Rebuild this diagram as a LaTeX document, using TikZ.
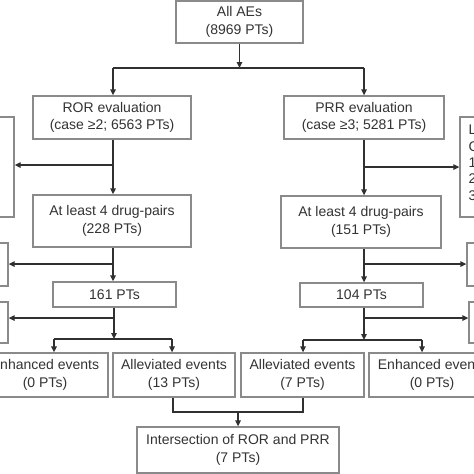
\documentclass[tikz,border=0pt]{standalone}
\usepackage{fontspec}
\setmainfont{Liberation Sans}
\usetikzlibrary{arrows.meta}
\definecolor{txt}{HTML}{333333}
\definecolor{boxc}{HTML}{8A8A8A}
\definecolor{linec}{HTML}{303030}
\begin{document}
\begin{tikzpicture}[x=1pt,y=-1pt,
  box/.style={draw=boxc,line width=1.3pt,fill=white,inner sep=0pt,align=center,text=txt,
    font=\fontsize{14pt}{17.5pt}\selectfont},
  conn/.style={draw=linec,line width=1.3pt},
  arr/.style={conn,-{Triangle[length=6pt,width=5.5pt]}}]
\useasboundingbox (0,0) rectangle (474,474);
\begin{scope}
\clip (0,0) rectangle (474,474);
% top
\node[box,minimum width=127pt,minimum height=42pt] (all) at (239.5,22) {All AEs\\(8969 PTs)};
\node[box,minimum width=158pt,minimum height=43pt] (ror) at (112,117.5) {ROR evaluation\\(case ≥2; 6563 PTs)};
\node[box,minimum width=160pt,minimum height=43pt] (prr) at (364,117.5) {PRR evaluation\\(case ≥3; 5281 PTs)};
% side boxes
\node[box,minimum width=34pt,minimum height=100pt] (l1) at (-3,167) {};
\node[box,minimum width=40pt,minimum height=100pt] (r1) at (480,167) {};
\node[anchor=north west,align=left,inner sep=0pt,text=txt,
  font=\fontsize{14pt}{16.3pt}\selectfont] (r1t) at (468.5,125) {L\\C\\1\\2\\3};
\node[box,minimum width=28pt,minimum height=43pt] (l2) at (-6,264.5) {};
\node[box,minimum width=33pt,minimum height=43pt] (r2) at (483.5,264.5) {};
\node[box,minimum width=28pt,minimum height=41pt] (l3) at (-6,322.5) {};
\node[box,minimum width=31pt,minimum height=41pt] (r3) at (484.5,322.5) {};
% middle
\node[box,minimum width=158pt,minimum height=52pt] (ror2) at (112,221) {At least 4 drug-pairs\\(228 PTs)};
\node[box,minimum width=160pt,minimum height=52pt] (prr2) at (361,222) {At least 4 drug-pairs\\(151 PTs)};
\node[box,minimum width=123pt,minimum height=25pt] (p161) at (114.5,294.5) {161 PTs};
\node[box,minimum width=123pt,minimum height=24pt] (p104) at (361.5,295) {104 PTs};
% bottom row
\node[box,minimum width=126pt,minimum height=44pt] (enhL) at (45,375) {Enhanced events\\(0 PTs)};
\node[box,minimum width=122pt,minimum height=44pt] (allL) at (174,375) {Alleviated events\\(13 PTs)};
\node[box,minimum width=123pt,minimum height=44pt] (allR) at (302.5,375) {Alleviated events\\(7 PTs)};
\node[box,minimum width=126pt,minimum height=44pt] (enhR) at (432,375) {Enhanced events\\(0 PTs)};
\node[box,minimum width=202pt,minimum height=46pt] (inter) at (238,450) {Intersection of ROR and PRR\\(7 PTs)};
% coordinates
\coordinate (s0) at (239.5,68);
\coordinate (s0l) at (113,68);
\coordinate (s0r) at (364,68);
\coordinate (a1) at (113,165);
\coordinate (b1) at (364,167);
\coordinate (a2) at (113,264);
\coordinate (b2) at (364,264);
\coordinate (a3) at (114,318);
\coordinate (b3) at (364,318);
\coordinate (a4) at (114,339);
\coordinate (a4l) at (54,339);
\coordinate (a4r) at (172,339);
\coordinate (b4) at (364,340);
\coordinate (b4l) at (303,340);
\coordinate (b4r) at (422,340);
\coordinate (m) at (238,412);
% connectors
\draw[arr] (all.south) -- (s0);
\draw[conn] (s0l) -- (s0r);
\draw[arr] (s0l) -- (s0l |- ror.north);
\draw[arr] (s0r) -- (s0r |- prr.north);
\draw[arr] (ror.south -| s0l) -- (s0l |- ror2.north);
\draw[arr] (a1) -- (a1 -| l1.east);
\draw[arr] (prr.south -| s0r) -- (s0r |- prr2.north);
\draw[arr] (b1) -- (b1 -| r1.west);
\draw[arr] (ror2.south -| a2) -- (a2 |- p161.north);
\draw[arr] (a2) -- (a2 -| l2.east);
\draw[arr] (prr2.south -| b2) -- (b2 |- p104.north);
\draw[arr] (b2) -- (b2 -| r2.west);
\draw[arr] (p161.south -| a3) -- (a4);
\draw[arr] (a3) -- (a3 -| l3.east);
\draw[conn] (a4l) -- (a4r);
\draw[arr] (a4l) -- (a4l |- enhL.north);
\draw[arr] (a4r) -- (a4r |- allL.north);
\draw[arr] (p104.south -| b3) -- (b4);
\draw[arr] (b3) -- (b3 -| r3.west);
\draw[conn] (b4l) -- (b4r);
\draw[arr] (b4l) -- (b4l |- allR.north);
\draw[arr] (b4r) -- (b4r |- enhR.north);
\draw[conn] (allL.south -| 173,0) |- (m) -| (allR.south -| 303,0);
\draw[arr] (m) -- (inter.north);
\end{scope}
\end{tikzpicture}
\end{document}
